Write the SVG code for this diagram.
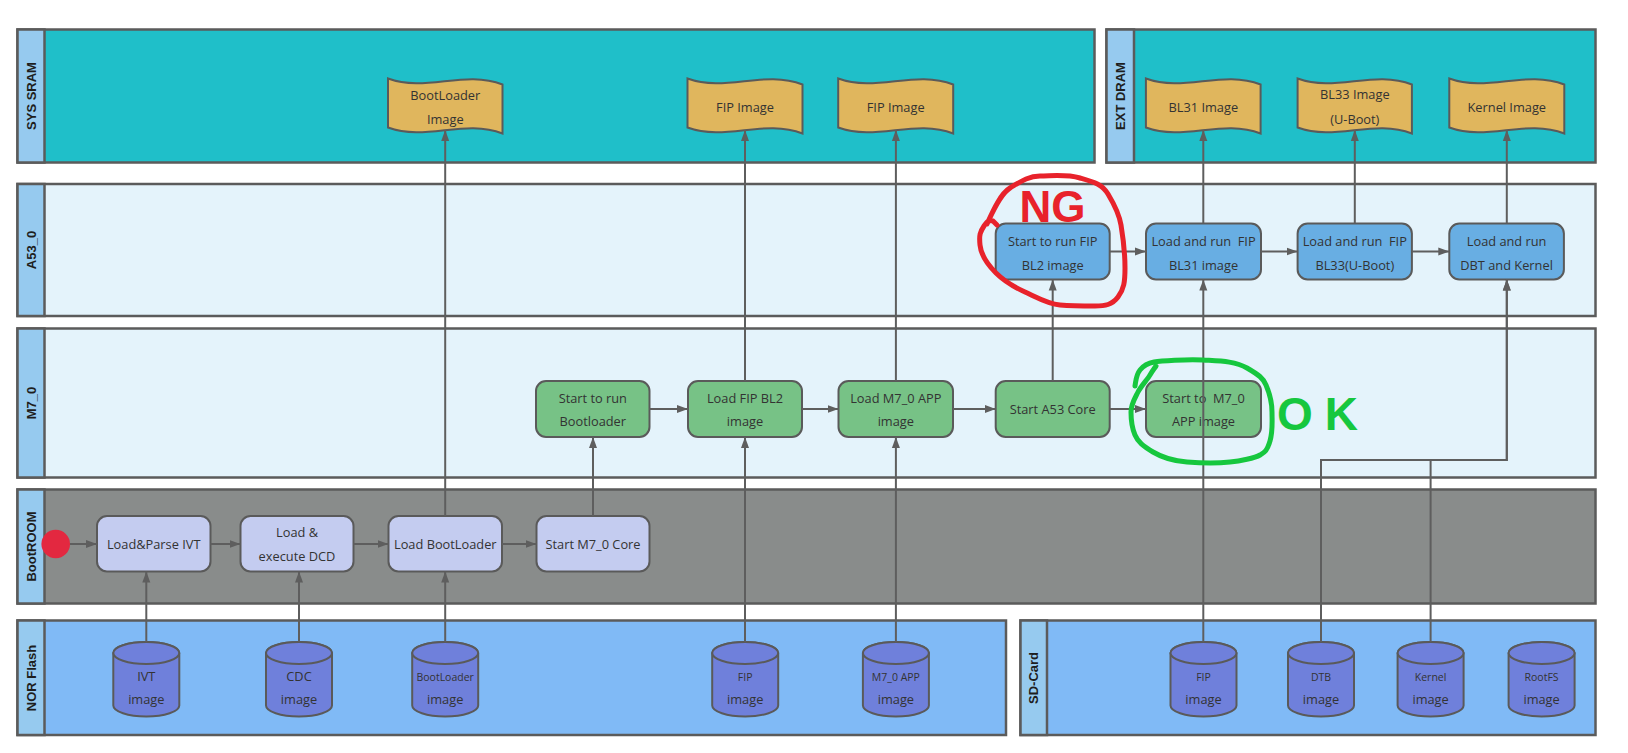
<svg xmlns="http://www.w3.org/2000/svg" width="1628" height="753" viewBox="0 0 1628 753">
<style>
.lane{stroke:#5B5B5B;stroke-width:2.5}
.band{fill:#96CAEF;stroke:#5B5B5B;stroke-width:2.5}
.lt{font-family:"Liberation Sans",Arial,sans-serif;font-weight:bold;font-size:13px;fill:#1E1E1E;text-anchor:middle}
.t{font-family:"Open Sans","Liberation Sans",Arial,sans-serif;font-size:12.8px;fill:#333333;text-anchor:middle}
.s{font-size:10.5px}
.node{stroke:#5A5A5A;stroke-width:2}
.boot{fill:#C4CCF0}
.m7{fill:#77C286}
.a53{fill:#68AEE3}
.doc{fill:#E0B65D;stroke:#5A5A5A;stroke-width:2}
.cyl{fill:#6F80DB;stroke:#5A5A5A;stroke-width:2}
.conn{fill:none;stroke:#5E5E5E;stroke-width:2;marker-end:url(#arr)}
.hand{fill:none;stroke-width:5;stroke-linecap:round;stroke-linejoin:round}
.hw{font-family:"Liberation Sans",Arial,sans-serif;font-weight:bold}
</style>
<defs>
<marker id="arr" markerUnits="userSpaceOnUse" markerWidth="12" markerHeight="10" refX="11" refY="5" orient="auto">
<path d="M0,1 L11,5 L0,9 z" fill="#5E5E5E"/>
</marker>
</defs>
<rect x="0" y="0" width="1628" height="753" fill="#FFFFFF"/>

<g id="lanes">
<g id="lane-sys-sram">
<rect x="17.5" y="29.5" width="1077" height="133" fill="#1FBFC9" class="lane"/>
<rect x="17.5" y="29.5" width="27" height="133" class="band"/>
<text class="lt" transform="translate(35.6,96) rotate(-90)">SYS SRAM</text>
</g>
<g id="lane-ext-dram">
<rect x="1106.5" y="29.5" width="489" height="133" fill="#1FBFC9" class="lane"/>
<rect x="1106.5" y="29.5" width="27.5" height="133" class="band"/>
<text class="lt" transform="translate(1124.8,96) rotate(-90)">EXT DRAM</text>
</g>
<g id="lane-a53">
<rect x="17.5" y="184" width="1578" height="132" fill="#E4F3FB" class="lane"/>
<rect x="17.5" y="184" width="27" height="132" class="band"/>
<text class="lt" transform="translate(35.6,250) rotate(-90)">A53_0</text>
</g>
<g id="lane-m7">
<rect x="17.5" y="328.5" width="1578" height="149" fill="#E4F3FB" class="lane"/>
<rect x="17.5" y="328.5" width="27" height="149" class="band"/>
<text class="lt" transform="translate(35.6,403) rotate(-90)">M7_0</text>
</g>
<g id="lane-bootrom">
<rect x="17.5" y="489.5" width="1578" height="114" fill="#898C8B" class="lane"/>
<rect x="17.5" y="489.5" width="27" height="114" class="band"/>
<text class="lt" transform="translate(35.6,546.5) rotate(-90)">BootROOM</text>
</g>
<g id="lane-nor">
<rect x="17.5" y="620.5" width="988.5" height="114.5" fill="#80BAF6" class="lane"/>
<rect x="17.5" y="620.5" width="27" height="114.5" class="band"/>
<text class="lt" transform="translate(35.6,678) rotate(-90)">NOR Flash</text>
</g>
<g id="lane-sd">
<rect x="1020.5" y="620.5" width="575" height="114.5" fill="#80BAF6" class="lane"/>
<rect x="1020.5" y="620.5" width="26.5" height="114.5" class="band"/>
<text class="lt" transform="translate(1038.3,678) rotate(-90)">SD-Card</text>
</g>
</g>

<g id="doc-bootloader-image">
<path class="doc" d="M388,78.5 C426.2,92.5 464.3,69.5 502.5,84.5 L502.5,133.5 C464.3,118.5 426.2,141.5 388,127.5 Z"/>
<text class="t" x="445.3" y="99.5">BootLoader</text>
<text class="t" x="445.3" y="123.5">Image</text>
</g>
<g id="doc-fip-image-1">
<path class="doc" d="M687.5,78.5 C725.8,92.5 764.2,69.5 802.5,84.5 L802.5,133.5 C764.2,118.5 725.8,141.5 687.5,127.5 Z"/>
<text class="t" x="745" y="111.5">FIP Image</text>
</g>
<g id="doc-fip-image-2">
<path class="doc" d="M838.2,78.5 C876.5,92.5 914.9,69.5 953.2,84.5 L953.2,133.5 C914.9,118.5 876.5,141.5 838.2,127.5 Z"/>
<text class="t" x="895.7" y="111.5">FIP Image</text>
</g>
<g id="doc-bl31-image">
<path class="doc" d="M1145.9,78.5 C1184.1,92.5 1222.4,69.5 1260.6,84.5 L1260.6,133.5 C1222.4,118.5 1184.1,141.5 1145.9,127.5 Z"/>
<text class="t" x="1203.3" y="111.5">BL31 Image</text>
</g>
<g id="doc-bl33-image">
<path class="doc" d="M1297.6,78.5 C1335.7,92.5 1373.8,69.5 1411.9,84.5 L1411.9,133.5 C1373.8,118.5 1335.7,141.5 1297.6,127.5 Z"/>
<text class="t" x="1354.8" y="98.5">BL33 Image</text>
<text class="t" x="1354.8" y="123.5">(U-Boot)</text>
</g>
<g id="doc-kernel-image">
<path class="doc" d="M1449.3,78.5 C1487.6,92.5 1525.9,69.5 1564.3,84.5 L1564.3,133.5 C1525.9,118.5 1487.6,141.5 1449.3,127.5 Z"/>
<text class="t" x="1506.8" y="111.5">Kernel Image</text>
</g>

<g id="a53-start-bl2">
<rect class="node a53" x="995.7" y="223.5" width="114" height="56" rx="10"/>
<text class="t" x="1052.7" y="245.5">Start to run FIP</text>
<text class="t" x="1052.7" y="269.5">BL2 image</text>
</g>
<g id="a53-bl31">
<rect class="node a53" x="1146" y="223.5" width="115" height="56" rx="10"/>
<text class="t" x="1203.5" y="245.5" xml:space="preserve">Load and run  FIP</text>
<text class="t" x="1203.5" y="269.5">BL31 image</text>
</g>
<g id="a53-bl33">
<rect class="node a53" x="1297.6" y="223.5" width="114.3" height="56" rx="10"/>
<text class="t" x="1354.8" y="245.5" xml:space="preserve">Load and run  FIP</text>
<text class="t" x="1354.8" y="269.5">BL33(U-Boot)</text>
</g>
<g id="a53-dbt-kernel">
<rect class="node a53" x="1449.3" y="223.5" width="114.6" height="56" rx="10"/>
<text class="t" x="1506.6" y="245.5">Load and run</text>
<text class="t" x="1506.6" y="269.5">DBT and Kernel</text>
</g>

<g id="m7-run-bootloader">
<rect class="node m7" x="536" y="381" width="113.5" height="56" rx="10"/>
<text class="t" x="592.8" y="403">Start to run</text>
<text class="t" x="592.8" y="425.5">Bootloader</text>
</g>
<g id="m7-load-fip-bl2">
<rect class="node m7" x="688" y="381" width="114" height="56" rx="10"/>
<text class="t" x="745" y="403">Load FIP BL2</text>
<text class="t" x="745" y="425.5">image</text>
</g>
<g id="m7-load-app">
<rect class="node m7" x="838.5" y="381" width="114.5" height="56" rx="10"/>
<text class="t" x="895.8" y="403">Load M7_0 APP</text>
<text class="t" x="895.8" y="425.5">image</text>
</g>
<g id="m7-start-a53">
<rect class="node m7" x="995.7" y="381" width="114" height="56" rx="10"/>
<text class="t" x="1052.7" y="413.5">Start A53 Core</text>
</g>
<g id="m7-start-app">
<rect class="node m7" x="1146" y="381" width="115" height="56" rx="10"/>
<text class="t" x="1203.5" y="403" xml:space="preserve">Start to  M7_0</text>
<text class="t" x="1203.5" y="425.5">APP image</text>
</g>

<g id="start">
<circle cx="55.7" cy="544" r="14.3" fill="#E32840"/>
</g>
<g id="boot-parse-ivt">
<rect class="node boot" x="97" y="516" width="113.5" height="55.5" rx="10"/>
<text class="t" x="153.7" y="548.5">Load&amp;Parse IVT</text>
</g>
<g id="boot-dcd">
<rect class="node boot" x="240.5" y="516" width="113" height="55.5" rx="10"/>
<text class="t" x="297" y="536.8">Load &amp;</text>
<text class="t" x="297" y="560.5">execute DCD</text>
</g>
<g id="boot-load-bootloader">
<rect class="node boot" x="388.5" y="516" width="113.5" height="55.5" rx="10"/>
<text class="t" x="445.3" y="548.5">Load BootLoader</text>
</g>
<g id="boot-start-m7">
<rect class="node boot" x="536.5" y="516" width="113" height="55.5" rx="10"/>
<text class="t" x="593" y="548.5">Start M7_0 Core</text>
</g>

<g id="cyl-ivt">
<path class="cyl" d="M113.3,653 V705.5 A33,11 0 0 0 179.3,705.5 V653 A33,11 0 0 0 113.3,653 Z"/>
<ellipse class="cyl" cx="146.3" cy="653" rx="33" ry="11"/>
<text class="t" x="146.3" y="681">IVT</text>
<text class="t" x="146.3" y="703.5">image</text>
</g>
<g id="cyl-cdc">
<path class="cyl" d="M266,653 V705.5 A33,11 0 0 0 332,705.5 V653 A33,11 0 0 0 266,653 Z"/>
<ellipse class="cyl" cx="299" cy="653" rx="33" ry="11"/>
<text class="t" x="299" y="681">CDC</text>
<text class="t" x="299" y="703.5">image</text>
</g>
<g id="cyl-bootloader">
<path class="cyl" d="M412.2,653 V705.5 A33,11 0 0 0 478.2,705.5 V653 A33,11 0 0 0 412.2,653 Z"/>
<ellipse class="cyl" cx="445.2" cy="653" rx="33" ry="11"/>
<text class="t s" x="445.2" y="681">BootLoader</text>
<text class="t" x="445.2" y="703.5">image</text>
</g>
<g id="cyl-nor-fip">
<path class="cyl" d="M712.2,653 V705.5 A33,11 0 0 0 778.2,705.5 V653 A33,11 0 0 0 712.2,653 Z"/>
<ellipse class="cyl" cx="745.2" cy="653" rx="33" ry="11"/>
<text class="t s" x="745.2" y="681">FIP</text>
<text class="t" x="745.2" y="703.5">image</text>
</g>
<g id="cyl-m7-app">
<path class="cyl" d="M862.9,653 V705.5 A33,11 0 0 0 928.9,705.5 V653 A33,11 0 0 0 862.9,653 Z"/>
<ellipse class="cyl" cx="895.9" cy="653" rx="33" ry="11"/>
<text class="t s" x="895.9" y="681">M7_0 APP</text>
<text class="t" x="895.9" y="703.5">image</text>
</g>
<g id="cyl-sd-fip">
<path class="cyl" d="M1170.5,653 V705.5 A33,11 0 0 0 1236.5,705.5 V653 A33,11 0 0 0 1170.5,653 Z"/>
<ellipse class="cyl" cx="1203.5" cy="653" rx="33" ry="11"/>
<text class="t s" x="1203.5" y="681">FIP</text>
<text class="t" x="1203.5" y="703.5">image</text>
</g>
<g id="cyl-dtb">
<path class="cyl" d="M1288,653 V705.5 A33,11 0 0 0 1354,705.5 V653 A33,11 0 0 0 1288,653 Z"/>
<ellipse class="cyl" cx="1321" cy="653" rx="33" ry="11"/>
<text class="t s" x="1321" y="681">DTB</text>
<text class="t" x="1321" y="703.5">image</text>
</g>
<g id="cyl-kernel">
<path class="cyl" d="M1397.6,653 V705.5 A33,11 0 0 0 1463.6,705.5 V653 A33,11 0 0 0 1397.6,653 Z"/>
<ellipse class="cyl" cx="1430.6" cy="653" rx="33" ry="11"/>
<text class="t s" x="1430.6" y="681">Kernel</text>
<text class="t" x="1430.6" y="703.5">image</text>
</g>
<g id="cyl-rootfs">
<path class="cyl" d="M1508.6,653 V705.5 A33,11 0 0 0 1574.6,705.5 V653 A33,11 0 0 0 1508.6,653 Z"/>
<ellipse class="cyl" cx="1541.6" cy="653" rx="33" ry="11"/>
<text class="t s" x="1541.6" y="681">RootFS</text>
<text class="t" x="1541.6" y="703.5">image</text>
</g>

<g id="connectors">
<path class="conn" d="M70,544 H97"/>
<path class="conn" d="M210.5,544 H240.5"/>
<path class="conn" d="M353.5,544 H388.5"/>
<path class="conn" d="M502,544 H536.5"/>
<path class="conn" d="M146.3,642 V571.5"/>
<path class="conn" d="M299,642 V571.5"/>
<path class="conn" d="M445.2,642 V571.5"/>
<path class="conn" d="M445.2,516 V130"/>
<path class="conn" d="M593,516 V437"/>
<path class="conn" d="M649.5,409 H688"/>
<path class="conn" d="M802,409 H838.5"/>
<path class="conn" d="M953,409 H995.7"/>
<path class="conn" d="M1109.7,409 H1146"/>
<path class="conn" d="M745,642 V437"/>
<path class="conn" d="M745,381 V130"/>
<path class="conn" d="M895.9,642 V437"/>
<path class="conn" d="M895.9,381 V130"/>
<path class="conn" d="M1052.7,381 V279.5"/>
<path class="conn" d="M1109.7,251.5 H1146"/>
<path class="conn" d="M1261,251.5 H1297.6"/>
<path class="conn" d="M1411.9,251.5 H1449.3"/>
<path class="conn" d="M1203.3,223.5 V130"/>
<path class="conn" d="M1354.8,223.5 V130"/>
<path class="conn" d="M1506.8,223.5 V130"/>
<path class="conn" d="M1203.3,642 V279.5"/>
<path class="conn" d="M1321,642 V460 H1506.8 V279.5"/>
<path class="conn" d="M1430.6,642 V460 H1506.8 V279.5"/>
</g>

<g id="annotation-ng">
<path class="hand" stroke="#E8222B" d="M987,224 C992,213 1000,194 1010,188 S1028,176 1040,176 S1066,174 1080,178 S1102,184 1108,194 S1119,213 1121,225 S1125,254 1125,268 S1124,289 1118,297 S1105,306 1095,306 S1072,306 1060,305 S1036,297 1025,292 S1003,280 996,273 S981,255 980,245 S980,232 984,226 S989,220 993,221 L997,225"/>
<text class="hw" x="1052.5" y="222" font-size="44" fill="#E8222B" text-anchor="middle">NG</text>
</g>
<g id="annotation-ok">
<path class="hand" stroke="#16C73E" d="M1135,386 C1136,380 1136,375 1140,370 S1148,363 1154,362 S1187,359 1203,360 S1235,361 1247,368 S1263,378 1266,385 S1272,403 1272,412 S1273,431 1270,441 S1265,452 1260,455 S1240,461 1230,462 S1201,463 1187,462 S1163,458 1153,452 S1138,442 1135,435 S1131,420 1131,412 S1135,398 1138,392 S1147,380 1150,375 S1154,369 1156,366"/>
<text class="hw" x="1277" y="430" font-size="46" fill="#16C73E" letter-spacing="12">OK</text>
</g>
</svg>
